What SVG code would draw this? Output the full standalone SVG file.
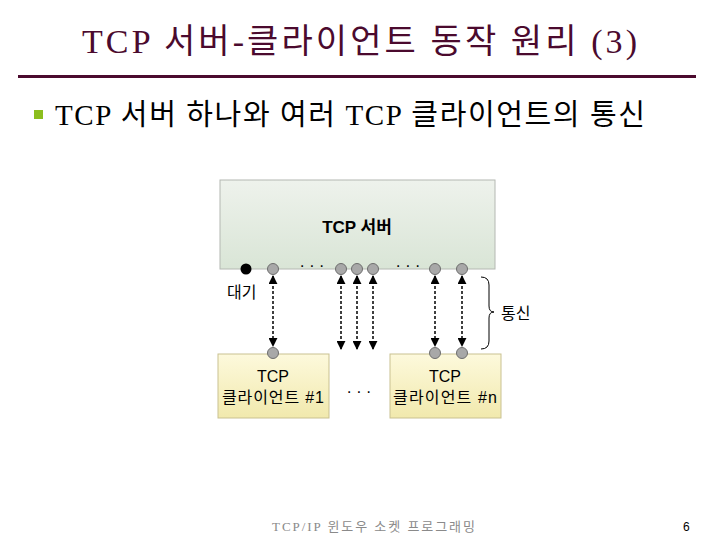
<svg xmlns="http://www.w3.org/2000/svg" width="720" height="540" viewBox="0 0 720 540">
<style>
.ser{font-family:"Liberation Serif","Noto Sans CJK KR",serif}
.sans{font-family:"Liberation Sans","Noto Sans CJK KR",sans-serif}
.lbl{font-family:"Liberation Sans","Noto Sans CJK KR",sans-serif;font-size:16px;fill:#000}
.g{fill:#a8a8a8;stroke:#6e6e6e;stroke-width:1}
.ln{stroke:#000;stroke-width:1.5;stroke-dasharray:3,2;fill:none}
.dots{font-family:"Liberation Sans",sans-serif;font-size:16px;fill:#000}
</style>
<defs>
<linearGradient id="sg" x1="0" y1="0" x2="0" y2="1"><stop offset="0" stop-color="#eef2ec"/><stop offset="1" stop-color="#d9e5d6"/></linearGradient>
<linearGradient id="cg" x1="0" y1="0" x2="0" y2="1"><stop offset="0" stop-color="#fdf9dc"/><stop offset="1" stop-color="#f1e9ad"/></linearGradient>
<marker id="ah" viewBox="0 0 10 10" refX="9" refY="5" markerWidth="6" markerHeight="6" orient="auto-start-reverse"><path d="M0,0 L10,5 L0,10 z" fill="#000"/></marker>
</defs>
<rect width="720" height="540" fill="#fff"/>
<text class="ser" x="82" y="53" font-size="34" fill="#4b0a2e" textLength="555" lengthAdjust="spacing">TCP 서버-클라이언트 동작 원리 (3)</text>
<rect x="18" y="75" width="678" height="3" fill="#4b0a2e"/>
<rect x="34" y="110" width="9" height="9" fill="#8cbe1e"/>
<text class="ser" x="55" y="125" font-size="29" fill="#000" textLength="590" lengthAdjust="spacing">TCP 서버 하나와 여러 TCP 클라이언트의 통신</text>

<g id="server">
<rect x="220" y="180" width="275" height="89" fill="url(#sg)" stroke="#b4b8b2" stroke-width="1"/>
<text class="sans" x="357" y="233" font-size="17" font-weight="bold" text-anchor="middle">TCP 서버</text>
<circle cx="246" cy="269" r="5.5" fill="#000"/>
<circle class="g" cx="273" cy="269" r="5.5"/>
<circle class="g" cx="341" cy="269" r="5.5"/>
<circle class="g" cx="357" cy="269" r="5.5"/>
<circle class="g" cx="373" cy="269" r="5.5"/>
<circle class="g" cx="435" cy="269" r="5.5"/>
<circle class="g" cx="462" cy="269" r="5.5"/>
<text class="dots" x="312" y="271" text-anchor="middle">· · ·</text>
<text class="dots" x="408" y="271" text-anchor="middle">· · ·</text>
</g>

<g id="client1">
<rect x="218" y="354" width="111" height="64" fill="url(#cg)" stroke="#c9c191" stroke-width="1"/>
<circle class="g" cx="273" cy="353" r="5.5"/>
<text class="lbl" x="273" y="382" text-anchor="middle">TCP</text>
<text class="lbl" x="273" y="403" text-anchor="middle" textLength="102" lengthAdjust="spacing">클라이언트 #1</text>
</g>
<g id="clientn">
<rect x="390" y="354" width="111" height="64" fill="url(#cg)" stroke="#c9c191" stroke-width="1"/>
<circle class="g" cx="435" cy="353" r="5.5"/>
<circle class="g" cx="462" cy="353" r="5.5"/>
<text class="lbl" x="445" y="382" text-anchor="middle">TCP</text>
<text class="lbl" x="445" y="403" text-anchor="middle" textLength="104" lengthAdjust="spacing">클라이언트 #n</text>
</g>
<text class="dots" x="359" y="397" text-anchor="middle">· · ·</text>

<g id="connectors">
<line class="ln" x1="273" y1="276" x2="273" y2="346" marker-start="url(#ah)" marker-end="url(#ah)"/>
<line class="ln" x1="341" y1="276" x2="341" y2="349" marker-start="url(#ah)" marker-end="url(#ah)"/>
<line class="ln" x1="357" y1="276" x2="357" y2="349" marker-start="url(#ah)" marker-end="url(#ah)"/>
<line class="ln" x1="373" y1="276" x2="373" y2="349" marker-start="url(#ah)" marker-end="url(#ah)"/>
<line class="ln" x1="435" y1="276" x2="435" y2="346" marker-start="url(#ah)" marker-end="url(#ah)"/>
<line class="ln" x1="462" y1="276" x2="462" y2="346" marker-start="url(#ah)" marker-end="url(#ah)"/>
<path d="M481,277 Q489,277 489,285 L489,306 Q489,312 494,312 Q489,312 489,318 L489,341 Q489,349 481,349" fill="none" stroke="#000" stroke-width="1"/>
</g>

<text class="lbl" x="227" y="298">대기</text>
<text class="lbl" x="501" y="319">통신</text>

<text class="ser" x="272" y="531" font-size="13" fill="#8a8a8a" textLength="203" lengthAdjust="spacing">TCP/IP 윈도우 소켓 프로그래밍</text>
<text class="sans" x="683" y="531" font-size="12" fill="#000">6</text>
</svg>
